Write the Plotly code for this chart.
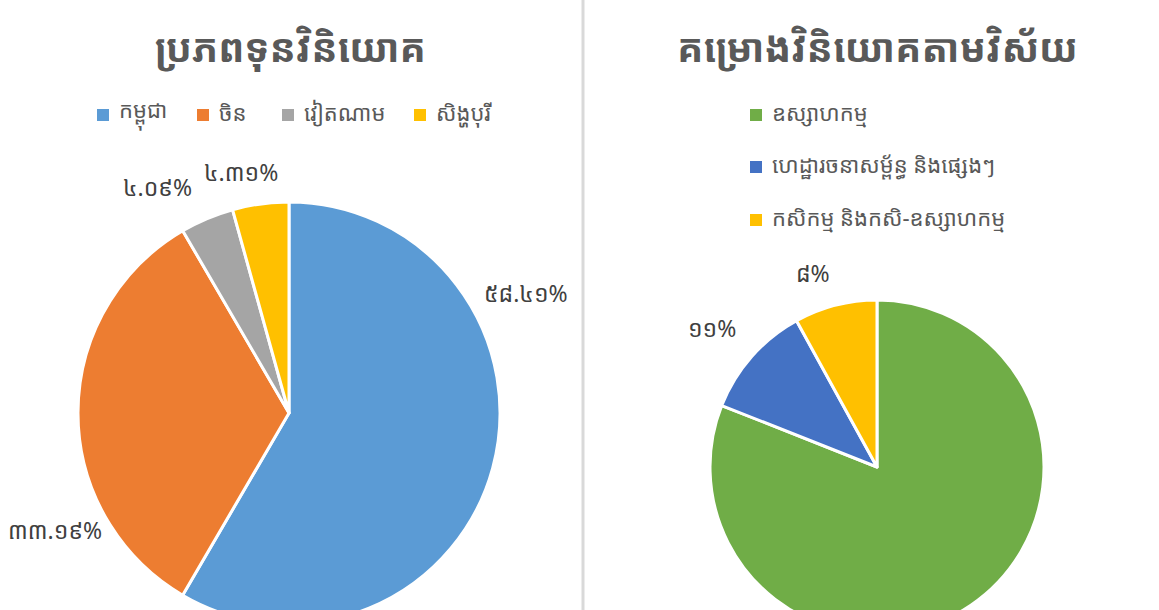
import plotly.graph_objects as go

# source of investment (left pie)
sourceLabels = ["កម្ពុជា", "ចិន", "វៀតណាម", "សិង្ហបុរី"]
sourceValues = [58.41, 33.19, 4.09, 4.31]
sourceColors = ["#5B9BD5", "#ED7D31", "#A5A5A5", "#FFC000"]

# projects by sector (right pie)
sectorLabels = ["ឧស្សាហកម្ម", "ហេដ្ឋារចនាសម្ព័ន្ធ និងផ្សេងៗ", "កសិកម្ម និងកសិ-ឧស្សាហកម្ម"]
sectorValues = [81, 11, 8]
sectorColors = ["#70AD47", "#4472C4", "#FFC000"]

leftTitle = "ប្រភពទុនវិនិយោគ"
rightTitle = "គម្រោងវិនិយោគតាមវិស័យ"

W, H = 1159, 640
FONT = "Noto Sans Khmer, Khmer OS, Noto Sans, DejaVu Sans, sans-serif"
KHMER_DIGITS = str.maketrans("0123456789", "០១២៣៤៥៦៧៨៩")
TEXT_GREY = "#595959"


def khmerPercent(value, decimals):
    return f"{value:.{decimals}f}%".translate(KHMER_DIGITS)


def px2x(px):
    return px / W


def px2y(py):
    return 1 - py / H


fig = go.Figure()
fig.add_trace(go.Pie(
    labels=sourceLabels,
    values=sourceValues,
    marker=dict(colors=sourceColors, line=dict(color="white", width=3)),
    sort=False,
    direction="clockwise",
    rotation=0,
    textinfo="none",
    hoverinfo="label+percent",
    domain=dict(x=[px2x(78), px2x(500)], y=[px2y(624), px2y(202)]),
    showlegend=False,
))
fig.add_trace(go.Pie(
    labels=sectorLabels,
    values=sectorValues,
    marker=dict(colors=sectorColors, line=dict(color="white", width=3)),
    sort=False,
    direction="clockwise",
    rotation=0,
    textinfo="none",
    hoverinfo="label+percent",
    domain=dict(x=[px2x(710), px2x(1044)], y=[px2y(634), px2y(300)]),
    showlegend=False,
))

# data labels, placed like the excel best-fit positions
labelSpots = [
    (sourceValues[0], 2, 526, 293),
    (sourceValues[1], 2, 55, 530),
    (sourceValues[2], 2, 157, 187),
    (sourceValues[3], 2, 241, 172),
    (sectorValues[1], 0, 712, 328),
    (sectorValues[2], 0, 813, 273),
]
for val, dec, lx, ly in labelSpots:
    fig.add_annotation(
        x=px2x(lx), y=px2y(ly), xref="paper", yref="paper",
        xanchor="center", yanchor="middle",
        text=khmerPercent(val, dec), showarrow=False,
        font=dict(size=23, color="#404040", family=FONT),
    )

for title, cx in [(leftTitle, 290), (rightTitle, 877)]:
    fig.add_annotation(
        x=px2x(cx), y=px2y(46), xref="paper", yref="paper",
        xanchor="center", yanchor="middle",
        text=f"<b>{title}</b>", showarrow=False,
        font=dict(size=39, color=TEXT_GREY, family=FONT),
    )


def legendEntry(label, color, mx, my):
    half = 6
    fig.add_shape(type="rect", xref="paper", yref="paper",
                  x0=px2x(mx - half), x1=px2x(mx + half),
                  y0=px2y(my + 3 + half), y1=px2y(my + 3 - half),
                  fillcolor=color, line=dict(width=0))
    fig.add_annotation(
        x=px2x(mx + 14), y=px2y(my), xref="paper", yref="paper",
        xanchor="left", yanchor="middle", text=label, showarrow=False,
        font=dict(size=22, color=TEXT_GREY, family=FONT),
    )


# left legend: one row
for label, color, mx in zip(sourceLabels, sourceColors, [103, 203, 288, 420]):
    legendEntry(label, color, mx, 112)

# right legend: one column
for label, color, my in zip(sectorLabels, sectorColors, [112, 164, 217]):
    legendEntry(label, color, 756, my)

# divider between the two charts
fig.add_shape(type="line", xref="paper", yref="paper",
              x0=px2x(583), x1=px2x(583), y0=0, y1=1,
              line=dict(color="#D9D9D9", width=3))

fig.update_layout(
    width=W,
    height=H,
    margin=dict(l=0, r=0, t=0, b=0),
    paper_bgcolor="white",
    font=dict(family=FONT, color=TEXT_GREY),
)

fig.write_html(
    "out.html",
    config={"displayModeBar": False},
    post_script="document.body.style.margin='0';document.body.style.overflow='hidden';",
)
